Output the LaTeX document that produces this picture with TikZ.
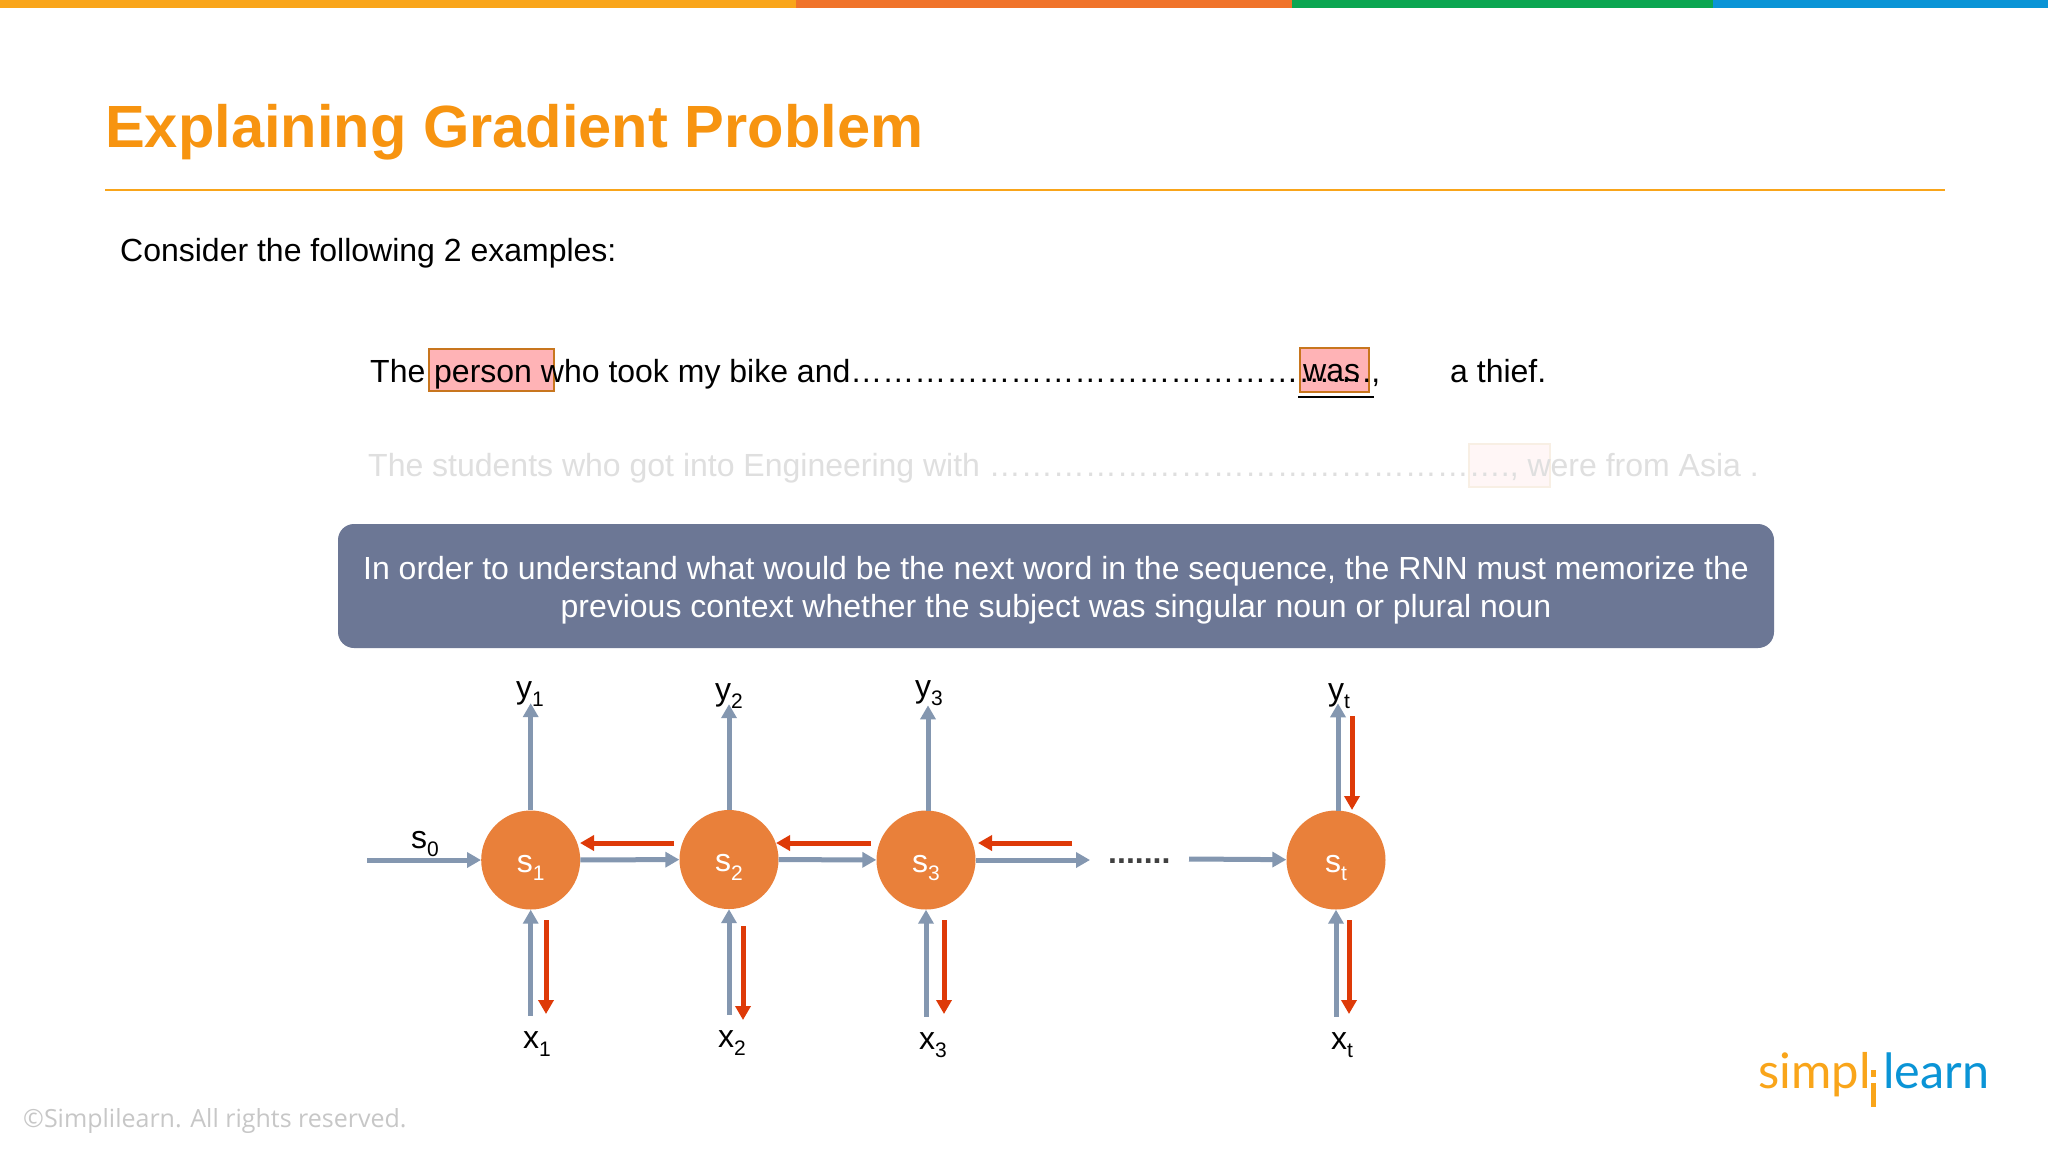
\documentclass[tikz,border=0pt]{standalone}
\usepackage{fontspec}
\setmainfont{Liberation Sans}
\newfontfamily\footfont{Open Sans}
\newfontfamily\logofont{Lato}
\usetikzlibrary{arrows.meta,positioning}
\definecolor{barA}{HTML}{F9A51A}
\definecolor{barB}{HTML}{F0732A}
\definecolor{barC}{HTML}{0BA651}
\definecolor{barD}{HTML}{0A94D6}
\definecolor{titleorange}{HTML}{F79410}
\definecolor{slate}{HTML}{6C7795}
\definecolor{cellorange}{HTML}{E9803A}
\definecolor{flowblue}{HTML}{8497B0}
\definecolor{backred}{HTML}{DE3A08}
\definecolor{markpink}{HTML}{FFB3B6}
\definecolor{markedge}{HTML}{C8761E}
\definecolor{fadetext}{HTML}{DFDFDF}
\newcommand{\lowtxt}[1]{\raisebox{-0.28em}{\fontsize{21}{21}\selectfont #1}}
\newcommand{\pts}{…………………………………………}
\begin{document}
\begin{tikzpicture}[x=1pt,y=-1pt,
 txt/.style={inner sep=0pt,anchor=base west,font=\fontsize{32}{38}\selectfont},
 lab/.style={inner sep=0pt,anchor=base west,font=\fontsize{32}{38}\selectfont},
 cell/.style={circle,fill=cellorange,minimum size=99pt,inner sep=0pt,text=white,text height=30pt,text depth=6pt,font=\fontsize{32}{38}\selectfont},
 hilite/.style={draw=markedge,fill=markpink,line width=1.5pt,inner sep=0pt,anchor=north west},
 flow/.style={draw=flowblue,line width=5pt,-{Triangle[length=14pt,width=15pt]}},
 back/.style={draw=backred,line width=5pt,-{Triangle[length=14pt,width=15pt]}}]
\useasboundingbox (0,0) rectangle (2048,1152);
\fill[white] (0,0) rectangle (2048,1152);
\fill[barA] (0,0) rectangle (796,8);
\fill[barB] (796,0) rectangle (1292,8);
\fill[barC] (1292,0) rectangle (1713,8);
\fill[barD] (1713,0) rectangle (2048,8);
\node[txt,font=\fontsize{59.6}{70}\selectfont\bfseries,text=titleorange] (title) at (105,147) {Explaining Gradient Problem};
\draw[barA,line width=1.5pt] (105,190) -- (1945,190);
\node[txt] (intro) at (120,261) {Consider the following 2 examples:};
\node[hilite,minimum width=125pt,minimum height=42pt] (box1) at (428,348) {};
\node[hilite,minimum width=69pt,minimum height=44pt] (box2) at (1299,347) {};
\node[hilite,draw=markedge!12,fill=markpink!12,minimum width=81pt,minimum height=43pt] (box3) at (1468,443) {};
\node[txt] (line1) at (370,382) {The person who took my bike and\pts.,};
\node[txt] (was) at (1303,381) {was};
\node[txt] (thief) at (1450,382) {a thief.};
\draw[black,line width=2pt] (1298,397) -- (1374,397);
\node[txt,text=fadetext] (line2) at (368,476) {The students who got into Engineering with \pts., were from Asia .};
\node[fill=slate,rounded corners=16pt,minimum width=1436pt,minimum height=124pt,inner sep=0pt] (banner) at (1056,586) {};
\node[text=white,inner sep=0pt,align=center,font=\fontsize{32}{38.5}\selectfont] (bannertxt) at (1056,590) {In order to understand what would be the next word in the sequence, the RNN must memorize the\\previous context whether the subject was singular noun or plural noun};
\node[cell] (s1) at (530.7,860) {s\lowtxt{1}};
\node[cell] (s2) at (729,859.5) {s\lowtxt{2}};
\node[cell] (s3) at (926,860) {s\lowtxt{3}};
\node[cell] (st) at (1336,860) {s\lowtxt{t}};
\node[lab] (y1) at (516,698) {y\lowtxt{1}};
\node[lab] (y2) at (715,700) {y\lowtxt{2}};
\node[lab] (y3) at (915,697) {y\lowtxt{3}};
\node[lab] (yt) at (1328,700) {y\lowtxt{t}};
\node[lab] (x1) at (523,1048) {x\lowtxt{1}};
\node[lab] (x2) at (718,1047) {x\lowtxt{2}};
\node[lab] (x3) at (919,1049) {x\lowtxt{3}};
\node[lab] (xt) at (1331,1049) {x\lowtxt{t}};
\node[lab] (s0) at (411,848) {s\lowtxt{0}};
\node[lab,text=black!75] (gap) at (1108,863) {\textbf{.......}};
\coordinate (start) at (367,860);
\coordinate (out3) at (1090,860);
\coordinate (in3) at (1189,859);
\coordinate (free3) at (1072,843);
\coordinate (s3top) at (928,811);
\coordinate (sttop) at (1338,811);
\draw[flow] (start) -- (s1);
\draw[flow] (s1) -- (s2);
\draw[flow] (s2) -- (s3);
\draw[flow] (s3) -- (out3);
\draw[flow] (in3) -- (st);
\draw[flow,shorten >=-4pt] (s1.north) -- (s1.north |- y1.south);
\draw[flow,shorten >=-5pt] (s2.north) -- (s2.north |- y2.south);
\draw[flow,shorten >=-1pt] (s3top) -- (s3top |- y3.south);
\draw[flow,shorten >=-6pt] (sttop) -- (sttop |- yt.south);
\draw[flow,shorten <=15pt] (s1.south |- x1.north) -- (s1.south);
\draw[flow,shorten <=15pt] (s2.south |- x2.north) -- (s2.south);
\draw[flow,shorten <=15pt] (s3.south |- x3.north) -- (s3.south);
\draw[flow,shorten <=15pt] (st.south |- xt.north) -- (st.south);
\coordinate (r1a) at (674,843);
\coordinate (r1b) at (580,843);
\coordinate (r2a) at (871,843);
\coordinate (r2b) at (776,843);
\coordinate (r3b) at (978,843);
\draw[back] (r1a) -- (r1b);
\draw[back] (r2a) -- (r2b);
\draw[back] (free3) -- (r3b);
\coordinate (d1a) at (546,920);
\coordinate (d1b) at (546,1014);
\coordinate (d2a) at (743,926);
\coordinate (d2b) at (743,1020);
\coordinate (d3a) at (944,920);
\coordinate (d3b) at (944,1014);
\coordinate (dta) at (1349,920);
\coordinate (dtb) at (1349,1014);
\coordinate (uta) at (1352,716);
\coordinate (utb) at (1352,810);
\draw[back] (d1a) -- (d1b);
\draw[back] (d2a) -- (d2b);
\draw[back] (d3a) -- (d3b);
\draw[back] (dta) -- (dtb);
\draw[back] (uta) -- (utb);
\node[inner sep=0pt,anchor=base west,text=black!22,font=\footfont\fontsize{25}{30}\selectfont] (copy) at (23,1127) {©Simplilearn. All rights reserved.};
\node[inner sep=0pt,anchor=base west,text=barA,font=\logofont\fontsize{49}{54}\selectfont] (logoa) at (1758,1088) {simpl};
\node[inner sep=0pt,anchor=base west,text=barD,font=\logofont\fontsize{48.5}{54}\selectfont] (logob) at (1883,1088) {learn};
\fill[barA] (1871,1070) rectangle (1876,1077);
\fill[barA] (1871,1083) rectangle (1876,1107);
\end{tikzpicture}
\end{document}
